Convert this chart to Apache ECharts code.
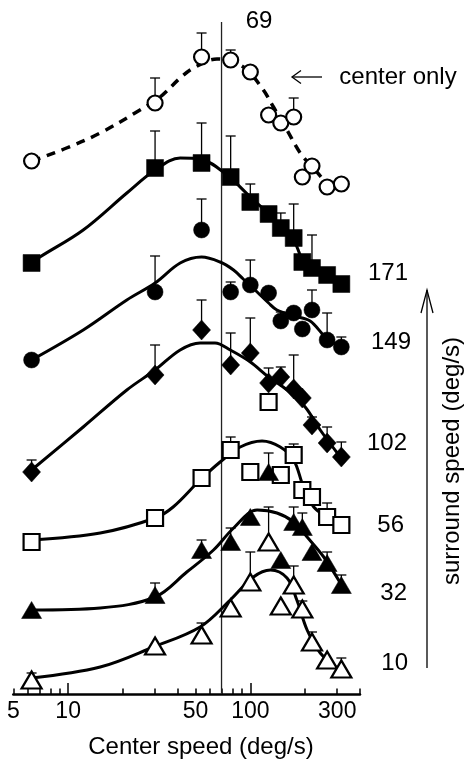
<!DOCTYPE html>
<html>
<head>
<meta charset="utf-8">
<script src="https://cdn.jsdelivr.net/npm/echarts@6/dist/echarts.min.js"></script>
<style>
html,body{margin:0;padding:0;background:#fff;}
#chart{width:474px;height:768px;}
</style>
</head>
<body>
<div id="chart"></div>
<script>
// Center speeds (deg/s) at which responses were measured
const speeds = [6.3, 30, 54, 78, 100, 126, 147, 173, 193, 218, 264, 316];
// Responses (arbitrary offset units, stacked curves)
const centerOnly    = [533, 591, 637, 634, 622, 579, 571, 577, 517, 528, 507, 510];
const centerOnlyErr = [null, 616, 661, 644, null, null, null, 596, null, null, null, null];
const surround171    = [431, 526, 531, 517, 492, 480, 466, 456, 432, 426, 419, 410];
const surround171Err = [null, 563, 571, 558, 510, null, 481, 490, null, 459, null, null];
const surround149    = [334, 402, 464, 402, 409, 401, 373, 381, 365, 384, 354, 347];
const surround149Err = [null, 438, 495, 412, 434, null, 382, null, null, 404, 381, 357];
const surround102    = [222, 319, 364, 329, 341, 311, 317, 305, 296, 269, 251, 237];
const surround102Err = [234, 349, 394, 361, 376, 326, 327, 339, null, 277, 267, 252];
const surround56     = [152, 176, 216, 244, 222, 292, 219, 239, 204, 197, 177, 169];
const surround56Err  = [null, null, null, 257, null, null, null, 250, null, null, 191, null];
const surround32     = [84, 99, 144, 152, 177, 222, 134, 172, 167, 142, 131, 109];
const surround32Err  = [null, 111, 154, 166, null, 241, null, 187, 181, null, 142, 119];
const surround10     = [14, 48, 59, 86, 112, 152, 88, 109, 85, 52, 34, 25];
const surround10Err  = [21, null, 71, null, 142, 187, null, 128, 93, 62, null, 36];

// Fitted curves: [speed, response]
const fitCenterOnly = [[6.3,533],[7.3,537],[9.8,546],[15,561],[24.8,584],[32,597],[41.2,616],[48.8,626],[65.6,635],[81,632],[96,624],[118,604],[134,587],[159,564],[188,541],[227,524],[264,512],[312,510]];
const fit171 = [[6.3,431],[7.0,437],[12.1,464],[21,501],[30,524],[41.2,536],[53,535],[74.4,519],[100,497],[126,480],[147,466],[173,454],[192,436],[223,426],[264,418],[316,410]];
const fit149 = [[6.3,334],[12.1,364],[21,394],[30,411],[41.2,431],[54,437],[68.3,432],[80.9,424],[91.4,415],[109,402],[126,391],[140,384],[173,378],[213,373],[258,357],[312,347]];
const fit102 = [[6.3,224],[12.1,267],[21,304],[30,324],[41.2,344],[53,351],[64,351],[77.6,344],[100,332],[126,317],[159,304],[200,287],[242,264],[312,237]];
const fit56  = [[6.3,154],[15,161],[30,176],[37.7,187],[53,214],[68.3,232],[88,247],[116,253],[146,247],[173,234],[195,208],[223,187],[264,177],[312,169]];
const fit32  = [[6.3,84],[15,86],[30,97],[44.8,122],[62.8,144],[81,166],[109,184],[140,181],[173,172],[205,157],[253,137],[312,111]];
const fit10  = [[6.3,16],[15,27],[29.4,47],[53,67],[77.6,94],[104,117],[129,124],[159,116],[180,94],[205,64],[242,41],[299,26]];

// Axis ticks
const xLabelValues = [5, 10, 50, 100, 300];
const xMajorTicks = [10, 100];
const xMinorTicks = [5, 6, 7, 8, 9, 20, 30, 40, 50, 60, 70, 80, 90, 200, 300, 400];
const xMin = 5, xMax = 400;
const refSpeed = 69.5;
const refTop = 672;
const surroundLabels = ['171', '149', '102', '56', '32', '10'];

const FONT = 'Liberation Sans, Arial, sans-serif';
const chart = echarts.init(document.getElementById('chart'));

function pts(vals) { return speeds.map((s, i) => [s, vals[i]]); }
function errs(vals, tops) {
  const out = [];
  speeds.forEach((s, i) => { if (tops[i] != null) out.push([s, vals[i], tops[i]]); });
  return out;
}
const errData = [].concat(
  errs(centerOnly, centerOnlyErr), errs(surround171, surround171Err),
  errs(surround149, surround149Err), errs(surround102, surround102Err),
  errs(surround56, surround56Err), errs(surround32, surround32Err),
  errs(surround10, surround10Err));

function fitLine(data, dashed) {
  return {
    type: 'line', data: data, smooth: 0.35, showSymbol: false, symbol: 'none',
    lineStyle: { color: '#000', width: dashed ? 3.5 : 3, type: dashed ? [9, 7] : 'solid', opacity: 1 },
    z: 2, silent: true, animation: false
  };
}
function scatter(vals, symbol, size, filled) {
  return {
    type: 'scatter', data: pts(vals), symbol: symbol, symbolSize: size, silent: true,
    itemStyle: filled ? { color: '#000', borderColor: '#000', borderWidth: 0.5, opacity: 1 }
                      : { color: '#fff', borderColor: '#000', borderWidth: 2.2, opacity: 1 },
    emphasis: { disabled: true },
    z: 4, animation: false
  };
}

const option = {
  animation: false,
  backgroundColor: '#fff',
  grid: { left: 13.3, right: 114, top: 0, bottom: 74, containLabel: false },
  xAxis: [{
    type: 'log', logBase: 10, min: xMin, max: xMax, position: 'bottom',
    axisLine: { show: true, lineStyle: { color: '#000', width: 2.5 } },
    axisTick: { show: true, inside: true, length: 11, customValues: xMajorTicks, lineStyle: { color: '#000', width: 1.5 } },
    axisLabel: { show: true, customValues: xLabelValues, margin: 6, color: '#000', fontSize: 23, fontFamily: FONT,
                 formatter: v => String(Math.round(v)) },
    splitLine: { show: false }, minorTick: { show: false }
  }, {
    type: 'log', logBase: 10, min: xMin, max: xMax, position: 'bottom', offset: 0,
    axisLine: { show: false },
    axisTick: { show: true, inside: true, length: 5.5, customValues: xMinorTicks, lineStyle: { color: '#000', width: 1.5 } },
    axisLabel: { show: false }, splitLine: { show: false }
  }],
  yAxis: { type: 'value', min: 0, max: 694, show: false, splitLine: { show: false } },
  series: [
    { type: 'line', data: [[refSpeed, 0], [refSpeed, refTop]], showSymbol: false, symbol: 'none',
      lineStyle: { color: '#222', width: 1.3 }, z: 1, silent: true },
    fitLine(fitCenterOnly, true),
    fitLine(fit171), fitLine(fit149), fitLine(fit102), fitLine(fit56), fitLine(fit32), fitLine(fit10),
    { type: 'custom', data: errData, z: 3, clip: false, silent: true,
      renderItem: function (params, api) {
        const p0 = api.coord([api.value(0), api.value(1)]);
        const p1 = api.coord([api.value(0), api.value(2)]);
        const st = { stroke: '#000', lineWidth: 1.3 };
        return { type: 'group', children: [
          { type: 'line', shape: { x1: p0[0], y1: p0[1], x2: p1[0], y2: p1[1] }, style: st },
          { type: 'line', shape: { x1: p1[0] - 5, y1: p1[1], x2: p1[0] + 5, y2: p1[1] }, style: st }
        ]};
      }
    },
    scatter(centerOnly, 'circle', 15, false),
    scatter(surround171, 'rect', 17, true),
    scatter(surround149, 'circle', 16, true),
    scatter(surround102, 'diamond', [18, 20], true),
    scatter(surround56, 'rect', 16, false),
    scatter(surround32, 'triangle', [20, 17], true),
    scatter(surround10, 'triangle', [20, 17], false)
  ],
  graphic: [
    { type: 'text', x: 259, y: 21, style: { text: '69', fontSize: 24, fontFamily: FONT, fill: '#000', align: 'center', verticalAlign: 'middle' } },
    { type: 'text', x: 398, y: 77, style: { text: 'center only', fontSize: 24, fontFamily: FONT, fill: '#000', align: 'center', verticalAlign: 'middle' } },
    { type: 'polyline', shape: { points: [[322, 77], [292, 77]] }, style: { stroke: '#000', lineWidth: 1.3, fill: null } },
    { type: 'polyline', shape: { points: [[301, 70.5], [292, 77], [301, 83.5]] }, style: { stroke: '#000', lineWidth: 1.3, fill: null } },
    { type: 'text', x: 408, y: 273, style: { text: surroundLabels[0], fontSize: 24, fontFamily: FONT, fill: '#000', align: 'right', verticalAlign: 'middle' } },
    { type: 'text', x: 411, y: 342, style: { text: surroundLabels[1], fontSize: 24, fontFamily: FONT, fill: '#000', align: 'right', verticalAlign: 'middle' } },
    { type: 'text', x: 407, y: 443, style: { text: surroundLabels[2], fontSize: 24, fontFamily: FONT, fill: '#000', align: 'right', verticalAlign: 'middle' } },
    { type: 'text', x: 404, y: 525, style: { text: surroundLabels[3], fontSize: 24, fontFamily: FONT, fill: '#000', align: 'right', verticalAlign: 'middle' } },
    { type: 'text', x: 407, y: 593, style: { text: surroundLabels[4], fontSize: 24, fontFamily: FONT, fill: '#000', align: 'right', verticalAlign: 'middle' } },
    { type: 'text', x: 408, y: 663, style: { text: surroundLabels[5], fontSize: 24, fontFamily: FONT, fill: '#000', align: 'right', verticalAlign: 'middle' } },
    { type: 'polyline', shape: { points: [[427, 668], [427, 290]] }, style: { stroke: '#000', lineWidth: 1.3, fill: null } },
    { type: 'polyline', shape: { points: [[421, 313], [427, 290], [433, 313]] }, style: { stroke: '#000', lineWidth: 1.3, fill: null } },
    { type: 'text', x: 452, y: 461, rotation: Math.PI / 2, style: { text: 'surround speed (deg/s)', fontSize: 24, fontFamily: FONT, fill: '#000', align: 'center', verticalAlign: 'middle' } },
    { type: 'text', x: 201, y: 747, style: { text: 'Center speed (deg/s)', fontSize: 24, fontFamily: FONT, fill: '#000', align: 'center', verticalAlign: 'middle' } }
  ]
};
chart.setOption(option);
</script>
</body>
</html>
